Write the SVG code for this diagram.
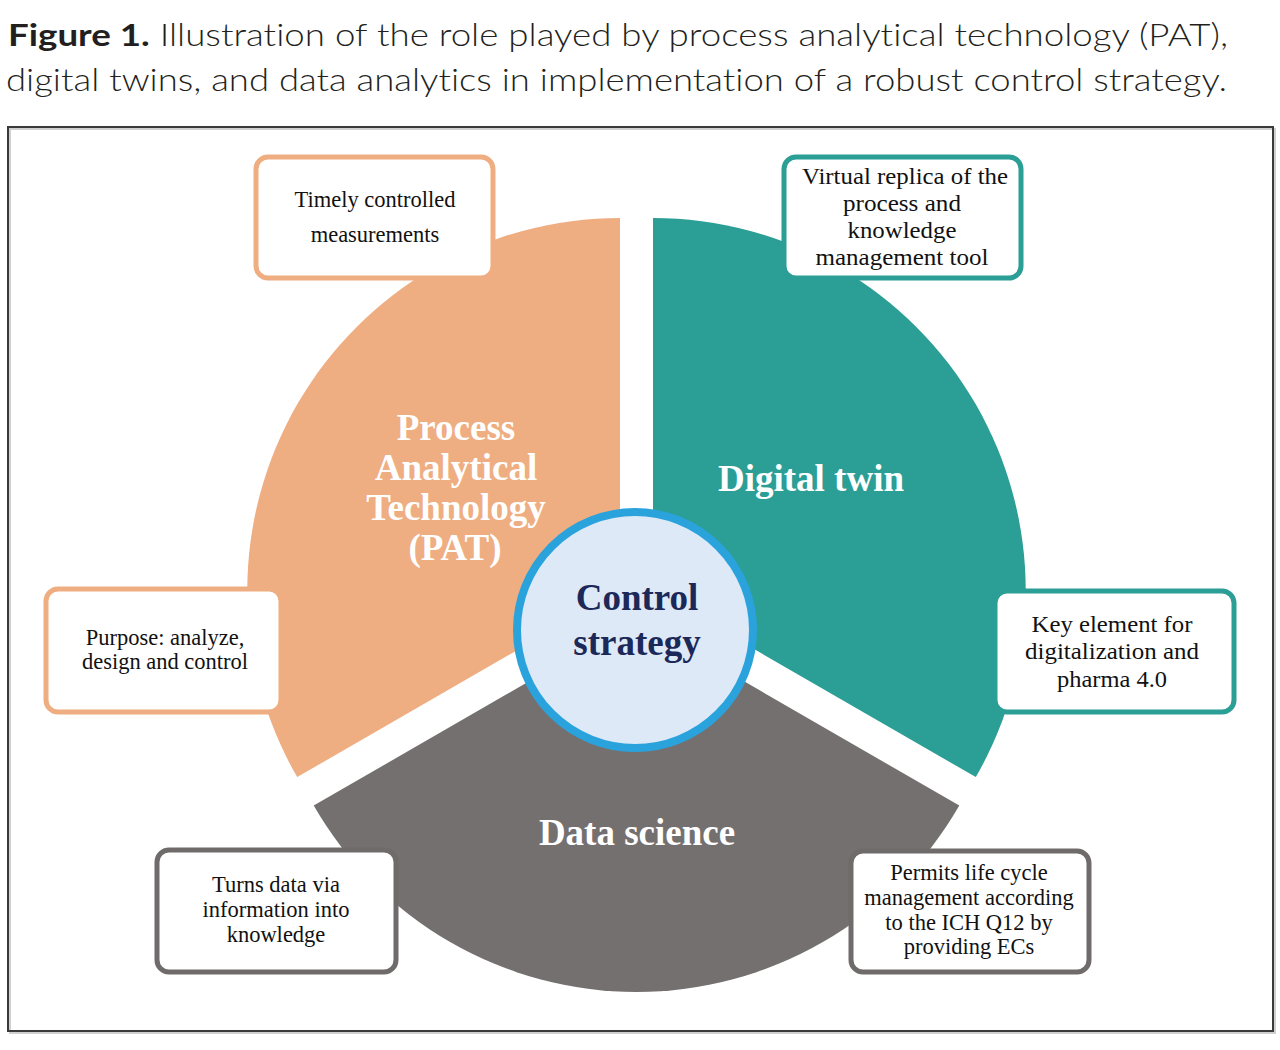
<svg xmlns="http://www.w3.org/2000/svg" width="1280" height="1050" viewBox="0 0 1280 1050">
<style>
.title{font-family:Lato,"Open Sans","DejaVu Sans",sans-serif;font-size:31px;font-weight:300;fill:#231f20;font-variant-ligatures:none}
.lbl{font-family:"Liberation Serif","Times New Roman",serif;font-weight:bold;font-size:37px;fill:#ffffff;text-anchor:middle}
.ctl{font-family:"Liberation Serif","Times New Roman",serif;font-weight:bold;font-size:37px;fill:#1c2858;text-anchor:middle}
.bt{font-family:"Liberation Serif","Times New Roman",serif;font-size:22.5px;fill:#111111;text-anchor:middle}
.box{fill:#ffffff;stroke-width:5}
.bo{stroke:#efad82}
.bg{stroke:#2b9e96}
.bgr{stroke:#6f6b6b}
</style>
<rect x="0" y="0" width="1280" height="1050" fill="#ffffff"/>
<text class="title" x="8" y="46" textLength="1220" lengthAdjust="spacingAndGlyphs"><tspan font-weight="bold">Figure 1.</tspan> Illustration of the role played by process analytical technology (PAT),</text>
<text class="title" x="6" y="91" textLength="1221" lengthAdjust="spacingAndGlyphs">digital twins, and data analytics in implementation of a robust control strategy.</text>
<rect x="10" y="129" width="1265" height="904" fill="none" stroke="#d0d0d0" stroke-width="2"/>
<rect x="8" y="127" width="1265" height="904" fill="none" stroke="#3a3a3a" stroke-width="2"/>
<g id="sector-pat">
<path d="M620 590.75 L620 218 A372.75 372.75 0 0 0 297.2 777.1 Z" fill="#efad82"/>
<text class="lbl" x="456" y="440">Process</text>
<text class="lbl" x="456" y="480">Analytical</text>
<text class="lbl" x="456" y="520">Technology</text>
<text class="lbl" x="455" y="560">(PAT)</text>
</g>
<g id="sector-twin">
<path d="M653 590.75 L653 218 A372.75 372.75 0 0 1 975.8 777.1 Z" fill="#2b9e96"/>
<text class="lbl" x="811" y="491">Digital twin</text>
</g>
<g id="sector-data">
<path d="M636.5 619.25 L959.3 805.6 A372.75 372.75 0 0 1 313.7 805.6 Z" fill="#757070"/>
<text class="lbl" x="637" y="845">Data science</text>
</g>
<g id="control">
<circle cx="635" cy="630" r="118" fill="#dde9f6" stroke="#2aa3dd" stroke-width="8"/>
<text class="ctl" x="637" y="610">Control</text>
<text class="ctl" x="637" y="655">strategy</text>
</g>
<g id="connectors"></g>
<g id="box-timely">
<rect class="box bo" x="256" y="157" width="237" height="121" rx="12"/>
<text class="bt" x="375" y="207">Timely controlled</text>
<text class="bt" x="375" y="242">measurements</text>
</g>
<g id="box-virtual">
<rect class="box bg" x="784" y="157" width="237" height="121" rx="12"/>
<text class="bt" x="905" y="184" font-size="24" textLength="206" lengthAdjust="spacingAndGlyphs">Virtual replica of the</text>
<text class="bt" x="902" y="211" font-size="24" textLength="118" lengthAdjust="spacingAndGlyphs">process and</text>
<text class="bt" x="902" y="238" font-size="24" textLength="109" lengthAdjust="spacingAndGlyphs">knowledge</text>
<text class="bt" x="902" y="265" font-size="24" textLength="173" lengthAdjust="spacingAndGlyphs">management tool</text>
</g>
<g id="box-purpose">
<rect class="box bo" x="46" y="589" width="235" height="123" rx="12"/>
<text class="bt" x="165" y="645">Purpose: analyze,</text>
<text class="bt" x="165" y="669">design and control</text>
</g>
<g id="box-key">
<rect class="box bg" x="995" y="591" width="239" height="121" rx="12"/>
<text class="bt" x="1112" y="632" font-size="24" textLength="161" lengthAdjust="spacingAndGlyphs">Key element for</text>
<text class="bt" x="1112" y="659" font-size="24" textLength="174" lengthAdjust="spacingAndGlyphs">digitalization  and</text>
<text class="bt" x="1112" y="687" font-size="24" textLength="110" lengthAdjust="spacingAndGlyphs">pharma 4.0</text>
</g>
<g id="box-turns">
<rect class="box bgr" x="157" y="850" width="239" height="122" rx="12"/>
<text class="bt" x="276" y="892">Turns data via</text>
<text class="bt" x="276" y="917">information into</text>
<text class="bt" x="276" y="942">knowledge</text>
</g>
<g id="box-permits">
<rect class="box bgr" x="851" y="851" width="238" height="121" rx="12"/>
<text class="bt" x="969" y="880">Permits life cycle</text>
<text class="bt" x="969" y="905">management according</text>
<text class="bt" x="969" y="930">to the ICH Q12 by</text>
<text class="bt" x="969" y="954">providing ECs</text>
</g>
</svg>
